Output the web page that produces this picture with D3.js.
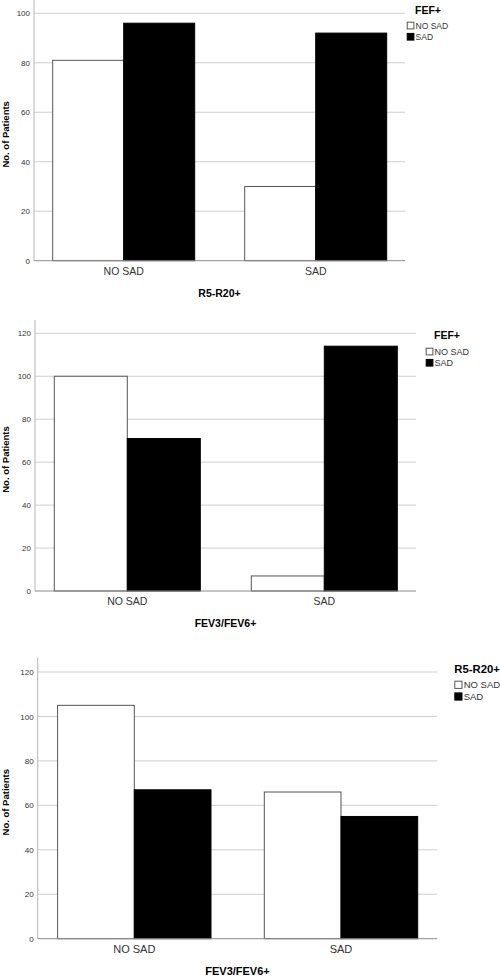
<!DOCTYPE html>
<html>
<head>
<meta charset="utf-8">
<script src="https://cdn.jsdelivr.net/npm/d3@7"></script>
<style>
  body { margin: 0; background: #fff; }
  svg { display: block; font-family: Arial, "Liberation Sans", sans-serif; }
</style>
</head>
<body>
<script>
// data
var categories = ["NO SAD", "SAD"];
var seriesNames = ["NO SAD", "SAD"];

var p1NoSad = [81, 30], p1Sad = [96, 92];
var p2NoSad = [100, 7], p2Sad = [71, 114];
var p3NoSad = [105, 66], p3Sad = [67, 55];

var ticks100 = [0, 20, 40, 60, 80, 100];
var ticks120 = [0, 20, 40, 60, 80, 100, 120];

var xTitles = ["R5-R20+", "FEV3/FEV6+", "FEV3/FEV6+"];
var legendTitles = ["FEF+", "FEF+", "R5-R20+"];
var yTitle = "No. of Patients";

var W = 500, H = 977;

var svg = d3.select("body").append("svg")
  .attr("width", W)
  .attr("height", H);

// layout of the three panels (pixels)
var panels = [
  { noSad: p1NoSad, sad: p1Sad, ticks: ticks100, topVal: 100, topPx: 13.3,
    left: 34, right: 405, base: 260.7, axisTop: 0,
    c0: 123.7, c1: 315.7, barW: 71,
    catFont: 10.5, titleFont: 10.5, legFont: 8.5, legTitleFont: 10.5,
    legX: 406.7, legY: 21.7, legTitleX: 415, legTitleY: 10, sw: 7.7 },
  { noSad: p2NoSad, sad: p2Sad, ticks: ticks120, topVal: 120, topPx: 333.3,
    left: 35, right: 416, base: 591, axisTop: 320,
    c0: 127.3, c1: 324.3, barW: 73,
    catFont: 10.5, titleFont: 10.5, legFont: 9, legTitleFont: 10.5,
    legX: 425.7, legY: 347.7, legTitleX: 434, legTitleY: 335, sw: 7.7 },
  { noSad: p3NoSad, sad: p3Sad, ticks: ticks120, topVal: 120, topPx: 672,
    left: 37.7, right: 437.3, base: 938.7, axisTop: 657.7,
    c0: 134.3, c1: 341, barW: 76.7,
    catFont: 11, titleFont: 11, legFont: 9.5, legTitleFont: 11.3,
    legX: 454.3, legY: 680.7, legTitleX: 454.3, legTitleY: 668.7, sw: 8.2 }
];

panels.forEach(function (p, i) {
  var g = svg.append("g");

  var y = d3.scaleLinear().domain([0, p.topVal]).range([p.base, p.topPx]);

  var step = p.c1 - p.c0;
  var x0 = d3.scaleBand().domain(categories)
    .range([p.c0 - step / 2, p.c1 + step / 2]).padding(0);
  var x1 = d3.scaleBand().domain(seriesNames)
    .range([-p.barW, p.barW]).padding(0);

  // gridlines
  g.selectAll(".grid")
    .data(p.ticks.filter(function (t) { return t > 0; }))
    .enter().append("line")
    .attr("x1", p.left).attr("x2", p.right)
    .attr("y1", function (d) { return y(d); })
    .attr("y2", function (d) { return y(d); })
    .style("stroke", "#cfcfcf")
    .style("stroke-width", 1);

  // y axis with d3, then restyle
  var yAxis = g.append("g")
    .attr("transform", "translate(" + p.left + ",0)")
    .call(d3.axisLeft(y).tickValues(p.ticks).tickSize(0).tickPadding(4));
  yAxis.select(".domain").remove();
  yAxis.selectAll("text")
    .style("font-family", "Arial, 'Liberation Sans', sans-serif")
    .style("font-size", "8px")
    .style("fill", "#333");

  g.append("line")
    .attr("x1", p.left).attr("x2", p.left)
    .attr("y1", p.axisTop).attr("y2", p.base)
    .style("stroke", "#b5b5b5")
    .style("stroke-width", 1);

  // bars
  var rows = [];
  categories.forEach(function (c, ci) {
    rows.push({ cat: c, s: "NO SAD", v: p.noSad[ci] });
    rows.push({ cat: c, s: "SAD", v: p.sad[ci] });
  });

  g.selectAll(".bar")
    .data(rows)
    .enter().append("rect")
    .attr("x", function (d) { return x0(d.cat) + x0.bandwidth() / 2 + x1(d.s); })
    .attr("y", function (d) { return y(d.v); })
    .attr("width", x1.bandwidth())
    .attr("height", function (d) { return p.base - y(d.v); })
    .style("fill", function (d) { return d.s == "SAD" ? "#000" : "#fff"; })
    .style("stroke", function (d) { return d.s == "SAD" ? "#000" : "#555"; })
    .style("stroke-width", 1);

  // baseline
  g.append("line")
    .attr("x1", p.left).attr("x2", p.right)
    .attr("y1", p.base).attr("y2", p.base)
    .style("stroke", "#8a8a8a")
    .style("stroke-width", 1);

  // category labels
  g.selectAll(".cat")
    .data(categories)
    .enter().append("text")
    .attr("x", function (d) { return x0(d) + x0.bandwidth() / 2; })
    .attr("y", p.base + 10.5)
    .attr("dy", "0.35em")
    .attr("text-anchor", "middle")
    .style("font-size", p.catFont + "px")
    .style("fill", "#333")
    .text(function (d) { return d; });

  // x title
  g.append("text")
    .attr("x", (p.left + p.right) / 2)
    .attr("y", p.base + 32.5)
    .attr("dy", "0.35em")
    .attr("text-anchor", "middle")
    .style("font-size", p.titleFont + "px")
    .style("font-weight", "bold")
    .text(xTitles[i]);

  // y title
  var ym = (p.axisTop + p.base) / 2 + 4;
  g.append("text")
    .attr("transform", "translate(6," + ym + ") rotate(-90)")
    .attr("dy", "0.35em")
    .attr("text-anchor", "middle")
    .style("font-size", "9.5px")
    .style("font-weight", "bold")
    .text(yTitle);

  // legend
  g.append("text")
    .attr("x", p.legTitleX)
    .attr("y", p.legTitleY)
    .attr("dy", "0.35em")
    .style("font-size", p.legTitleFont + "px")
    .style("font-weight", "bold")
    .text(legendTitles[i]);

  var leg = g.selectAll(".leg")
    .data(seriesNames)
    .enter().append("g")
    .attr("transform", function (d, k) {
      return "translate(" + p.legX + "," + (p.legY + k * (p.sw + 3.5)) + ")";
    });

  leg.append("rect")
    .attr("x", 0.5).attr("y", 0.5)
    .attr("width", p.sw - 1).attr("height", p.sw - 1)
    .style("fill", function (d) { return d == "SAD" ? "#000" : "#fff"; })
    .style("stroke", function (d) { return d == "SAD" ? "#000" : "#555"; })
    .style("stroke-width", 1);

  leg.append("text")
    .attr("x", p.sw + 1.2)
    .attr("y", p.sw / 2)
    .attr("dy", "0.35em")
    .style("font-size", p.legFont + "px")
    .style("fill", "#333")
    .text(function (d) { return d; });
});
</script>
</body>
</html>
